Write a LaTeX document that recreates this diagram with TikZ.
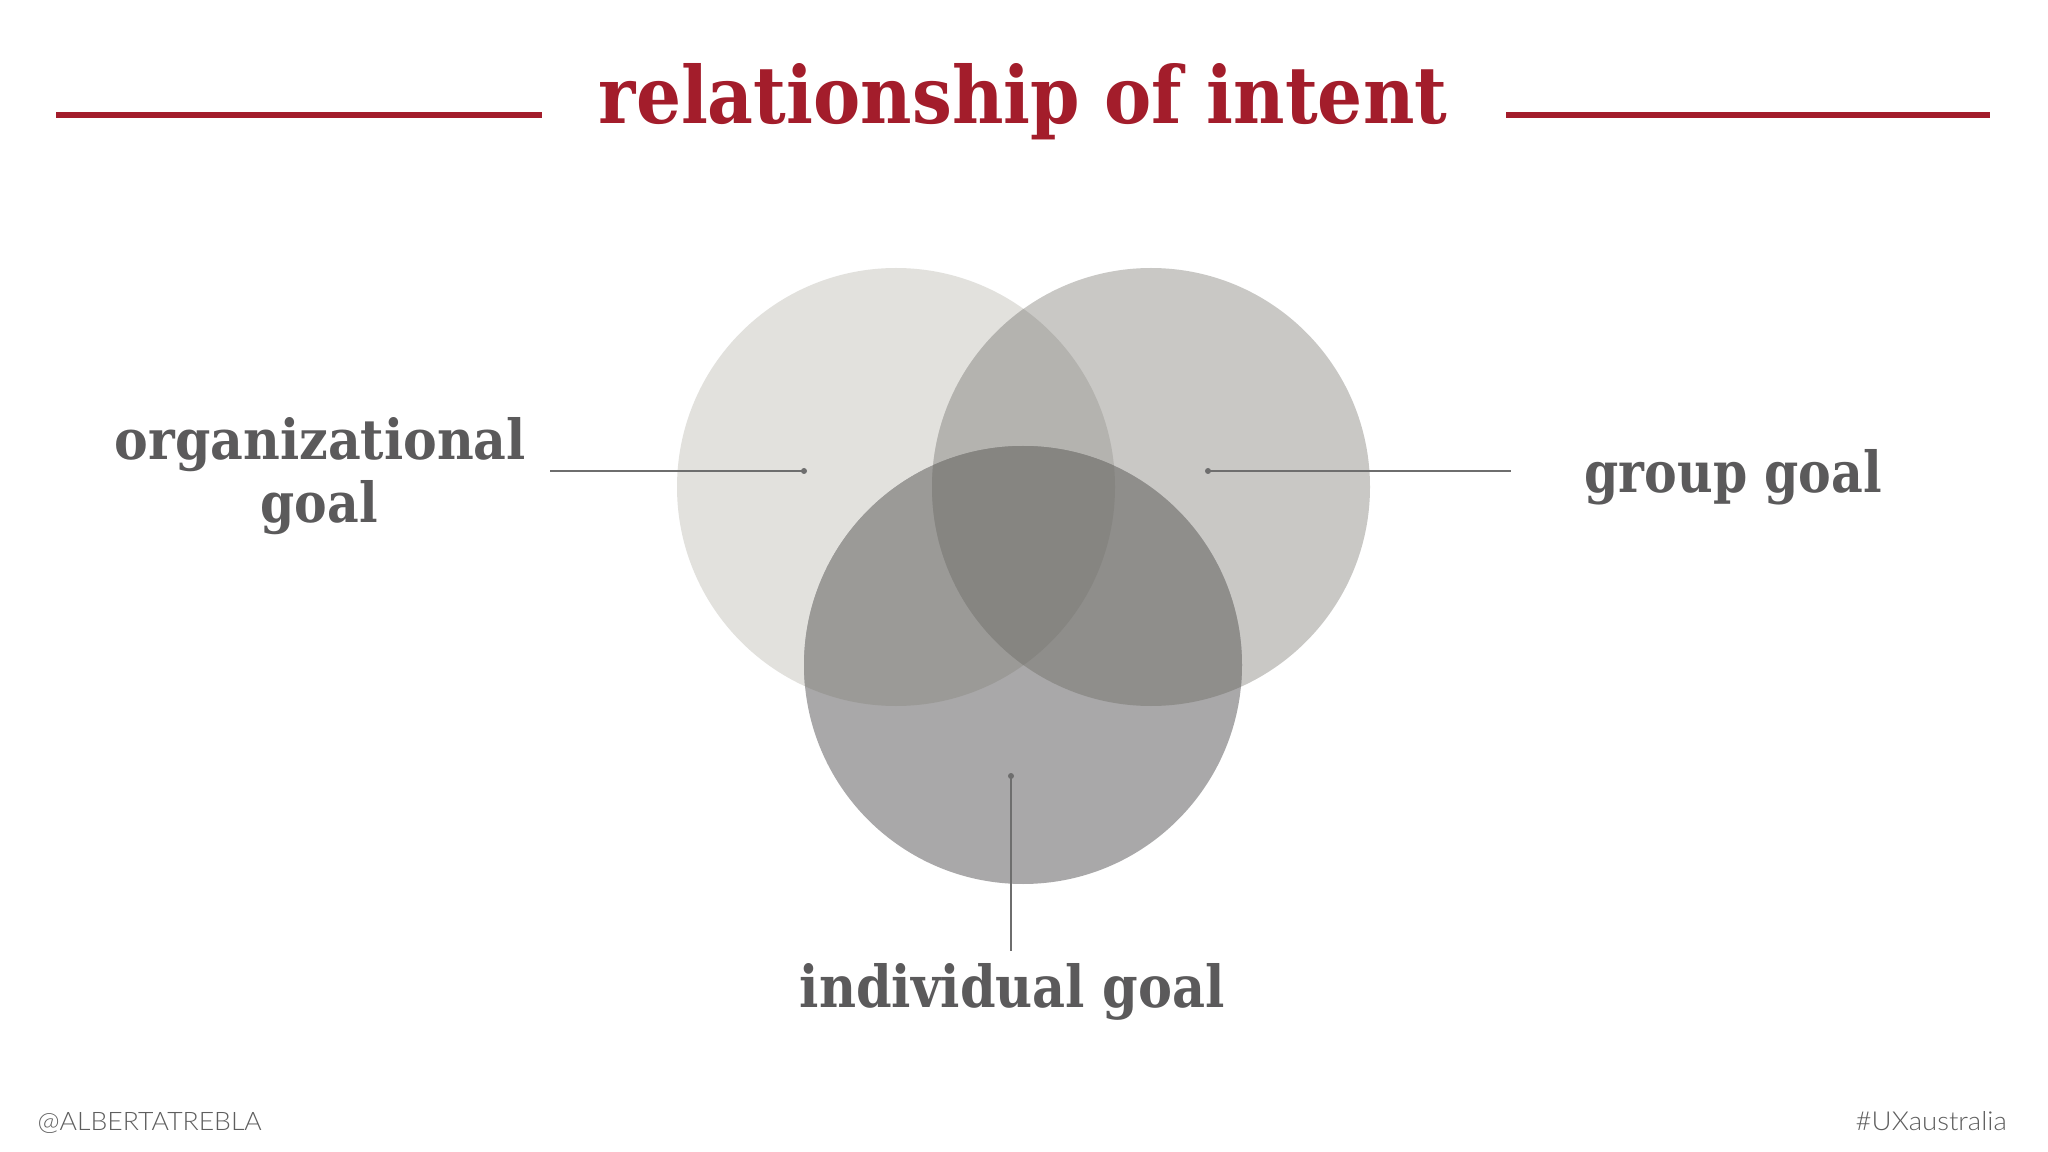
\documentclass[tikz,border=0pt]{standalone}
\usepackage{fontspec}
\usepackage{graphicx}
\setmainfont{DejaVu Serif}
\newfontfamily\footfont{Lato Light}
\definecolor{titlered}{HTML}{A31D2B}
\definecolor{labelgray}{HTML}{5B5A5B}
\definecolor{footgray}{HTML}{5E5E5E}
\definecolor{connGray}{HTML}{6E6E6E}
\definecolor{colA}{HTML}{E2E1DD}
\definecolor{colB}{HTML}{C9C8C5}
\definecolor{colC}{HTML}{A9A8A9}
\definecolor{colAB}{HTML}{B4B3AF}
\definecolor{colAC}{HTML}{9B9A97}
\definecolor{colBC}{HTML}{8F8E8B}
\definecolor{colABC}{HTML}{868581}
\begin{document}
\begin{tikzpicture}[x=0.01cm,y=-0.01cm,
  redline/.style={draw=titlered,line width=1.45pt},
  conn/.style={draw=connGray,line width=0.45pt},
  dotmark/.style={fill=connGray},
  lbl/.style={anchor=base west,inner sep=0pt,text=labelgray,font=\bfseries},
  foot/.style={anchor=base west,inner sep=0pt,text=footgray,font=\footfont}]
\fill[white] (0,0) rectangle (2048,1152);
\useasboundingbox (0,0) rectangle (2048,1152);
% circle centres
\coordinate (cA) at (896,487);
\coordinate (cB) at (1151,487);
\coordinate (cC) at (1023,665);
\def\R{219}
\fill[colA] (cA) circle[radius=\R];
\fill[colB] (cB) circle[radius=\R];
\fill[colC] (cC) circle[radius=\R];
\begin{scope}
  \clip (cA) circle[radius=\R];
  \fill[colAB] (cB) circle[radius=\R];
  \fill[colAC] (cC) circle[radius=\R];
\end{scope}
\begin{scope}
  \clip (cB) circle[radius=\R];
  \fill[colBC] (cC) circle[radius=\R];
\end{scope}
\begin{scope}
  \clip (cA) circle[radius=\R];
  \clip (cB) circle[radius=\R];
  \fill[colABC] (cC) circle[radius=\R];
\end{scope}
% title and rules
\node[anchor=base west,inner sep=0pt,text=titlered,font=\bfseries] (title) at (598,124)
  {\resizebox{8.48cm}{0.60cm}{relationship of intent}};
\coordinate (rl1) at (56,115);
\coordinate (rl2) at (542,115);
\coordinate (rr1) at (1506,115);
\coordinate (rr2) at (1990,115);
\draw[redline] (rl1) -- (rl2);
\draw[redline] (rr1) -- (rr2);
% labels
\node[lbl] (org1) at (114,460) {\resizebox{4.11cm}{0.42cm}{organizational}};
\node[lbl] (org2) at (260,522) {\resizebox{1.17cm}{0.42cm}{goal}};
\node[lbl] (grp) at (1584,492) {\resizebox{2.97cm}{0.43cm}{group goal}};
\node[lbl] (ind) at (799,1007) {\resizebox{4.25cm}{0.44cm}{individual goal}};
% connectors
\coordinate (dotL) at (804,471);
\coordinate (endL) at (550,471);
\coordinate (dotR) at (1208,471);
\coordinate (endR) at (1511,471);
\coordinate (dotI) at (1011,776);
\coordinate (endI) at (1011,951);
\draw[conn] (dotL) -- (endL);
\draw[conn] (dotR) -- (endR);
\draw[conn] (dotI) -- (endI);
\fill[dotmark] (dotL) circle[radius=3];
\fill[dotmark] (dotR) circle[radius=3];
\fill[dotmark] (dotI) circle[radius=3];
% footer
\node[foot] (handle) at (37,1130) {\resizebox{2.24cm}{0.18cm}{@ALBERTATREBLA}};
\node[foot] (tag) at (1855,1130) {\resizebox{1.51cm}{0.19cm}{\#UXaustralia}};
\end{tikzpicture}
\end{document}
